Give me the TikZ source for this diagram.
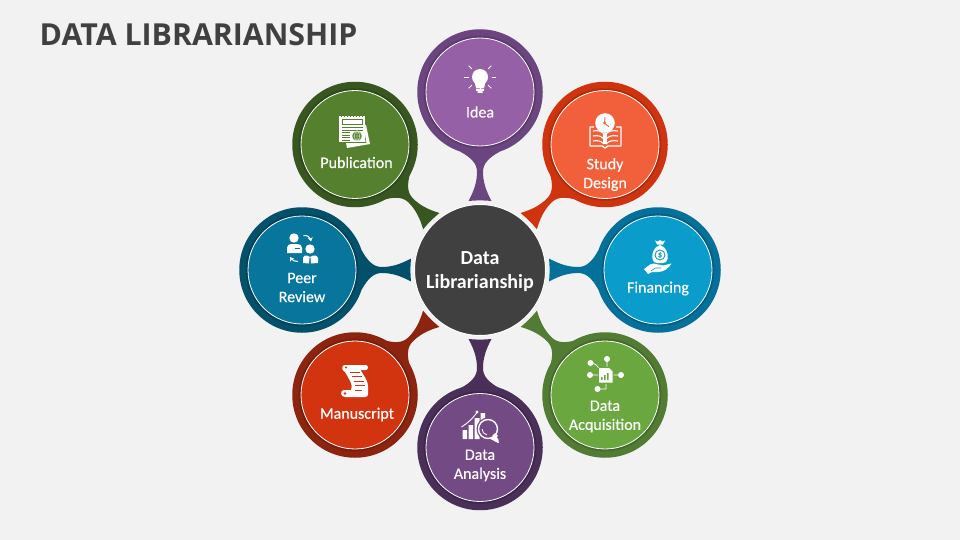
\documentclass[tikz,border=0pt]{standalone}
\usepackage{fontspec}
\setmainfont{Carlito}
\newfontfamily\labfont[FakeBold=0.35]{Carlito}
\newfontfamily\titlefont{Open Sans}
\usetikzlibrary{calc,arrows.meta}
\definecolor{bgc}{HTML}{F2F2F2}
\definecolor{darkc}{HTML}{404040}
\definecolor{ideaO}{HTML}{6B4580}\definecolor{ideaI}{HTML}{9560A5}
\definecolor{studyO}{HTML}{D0340F}\definecolor{studyI}{HTML}{F2603B}
\definecolor{finO}{HTML}{05719A}\definecolor{finI}{HTML}{0A9DCB}
\definecolor{acqO}{HTML}{527C33}\definecolor{acqI}{HTML}{6BA73F}
\definecolor{anaO}{HTML}{4A2F58}\definecolor{anaI}{HTML}{744A85}
\definecolor{manO}{HTML}{8C2410}\definecolor{manI}{HTML}{D2340F}
\definecolor{peerO}{HTML}{03506A}\definecolor{peerI}{HTML}{07759C}
\definecolor{pubO}{HTML}{375620}\definecolor{pubI}{HTML}{55812F}
\tikzset{
  x=1pt,y=-1pt,
  ringnode/.style={circle,inner sep=0pt,minimum size=125.5pt},
  coreshade/.style={circle,inner sep=0pt,minimum size=#1,fill=black,fill opacity=.10},
  facenode/.style={circle,inner sep=0pt,minimum size=108pt,draw=white,line width=.8pt},
  lab/.style={text=white,font=\labfont\fontsize{16}{19}\selectfont,align=center,inner sep=0pt},
  ico/.style={fill=white,draw=none},
}
% bubble: #1 name, #2 position, #3 ring colour, #4 face colour
\newcommand\bubble[4]{%
  \node[ringnode,fill=#3] (#1) at (#2) {};
  \node[coreshade=113pt] at (#1) {};
  \node[coreshade=111pt] at (#1) {};
  \node[facenode,fill=#4] (#1f) at (#1) {};
}
% stem from node #1 to node #2 in colour #3
\newcommand\stem[3]{%
  \fill[#3] let \p1=($(#2.center)-(#1.center)$),\n1={atan2(\y1,\x1)} in
    {[shift={(#1.center)},rotate=\n1]
    (69,-11.5) .. controls (80,-5.5) and (89,-3) .. (98,-3)
    .. controls (106,-3) and (112,-8) .. (118.5,-20)
    -- (122,0) -- (118.5,20)
    .. controls (112,8) and (106,3) .. (98,3)
    .. controls (89,3) and (80,5.5) .. (69,11.5)
    .. controls (69.8,4) and (69.8,-4) .. (69,-11.5) -- cycle};
}
\begin{document}
\begin{tikzpicture}
\useasboundingbox (0,0) rectangle (960,540);
\fill[bgc] (0,0) rectangle (960,540);
\node[anchor=west,inner sep=0pt,text=darkc,font=\titlefont\bfseries\fontsize{30.3}{36}\selectfont] (title) at (39.5,34.5) {DATA LIBRARIANSHIP};

\node[circle,inner sep=0pt,minimum size=131pt,fill=darkc,draw=white,line width=1pt] (core) at (480,270) {};

\coordinate (pA) at (480,92);
\coordinate (pB) at (605,144.5);
\coordinate (pC) at (658,270);
\coordinate (pD) at (605,395);
\coordinate (pE) at (480,447.5);
\coordinate (pF) at (355,395);
\coordinate (pG) at (302,270);
\coordinate (pH) at (355,144.5);

\stem{core}{pA}{ideaO}
\stem{core}{pB}{studyO}
\stem{core}{pC}{finO}
\stem{core}{pD}{acqO}
\stem{core}{pE}{anaO}
\stem{core}{pF}{manO}
\stem{core}{pG}{peerO}
\stem{core}{pH}{pubO}

\bubble{idea}{pA}{ideaO}{ideaI}
\bubble{study}{pB}{studyO}{studyI}
\bubble{fin}{pC}{finO}{finI}
\bubble{acq}{pD}{acqO}{acqI}
\bubble{ana}{pE}{anaO}{anaI}
\bubble{man}{pF}{manO}{manI}
\bubble{peer}{pG}{peerO}{peerI}
\bubble{pub}{pH}{pubO}{pubI}

\node[text=white,font=\bfseries\fontsize{20}{24}\selectfont,align=center,inner sep=0pt] (corelab) at (480,271.5) {Data\\Librarianship};
\node[lab] (l1) at (480,112) {Idea};
\node[lab] (l2) at (605,174.5) {Study\\Design};
\node[lab] (l3) at (658,288.5) {Financing};
\node[lab] (l4) at (605,416.5) {Data\\Acquisition};
\node[lab] (l5) at (480,465.5) {Data\\Analysis};
\node[lab] (l6) at (357,414.5) {Manuscript};
\node[lab] (l7) at (302,287.5) {Peer\\Review};
\node[lab] (l8) at (356.5,162.5) {Publication};

% --- Idea icon
\fill[ico] (480,77) circle (8);
\fill[ico] (474.5,82) -- (485.5,82) -- (484,88) -- (476,88) -- cycle;
\fill[ico] (476,88.6) rectangle (484,91) (477.5,91) rectangle (482.5,92.8);
\foreach \a in {0,45,90,135,180,225,315}
  \draw[white,line width=.9pt] ($(480,77)+(\a:11.5)$) -- ($(480,77)+(\a:16)$);

% --- Study design icon
\fill[ico] (605,123) circle (9.8);
\draw[studyI,line width=.9pt,line cap=round] (605,117.5) -- (604.5,123) -- (608.5,126.5);
\fill[studyI] (604.5,123) circle (1.5);
\draw[white,line width=1.3pt,line join=round]
  (594,127) -- (590,127) -- (590,146) -- (602,146) -- (605,148) -- (608,146) -- (621,146) -- (621,127) -- (616,127);
\fill[ico] (603,133) rectangle (607,144);
\draw[white,line width=1.1pt] (593,131) .. controls (598,130) and (601,131) .. (604,134)
  (593,136) .. controls (598,135) and (601,136) .. (604,139)
  (593,141) .. controls (598,140) and (601,141) .. (604,144)
  (618,131) .. controls (612,130) and (609,131) .. (606,134)
  (618,136) .. controls (612,135) and (609,136) .. (606,139)
  (618,141) .. controls (612,140) and (609,141) .. (606,144);

% --- Financing icon
\fill[ico] (660,245) .. controls (654,247) and (651.5,253) .. (652.5,259) .. controls (653,262) and (655,263) .. (657,263) -- (663,263)
  .. controls (665,263) and (667,262) .. (667.5,259) .. controls (668.5,253) and (666,247) .. (660,245) -- cycle;
\fill[ico] (655,240.5) -- (658,241.5) -- (660,240) -- (662,241.5) -- (665,240.5) -- (663,244.5) -- (657,244.5) -- cycle;
\draw[finI,line width=.9pt] (660,255) circle (5);
\node[inner sep=0pt,text=finI,font=\labfont\fontsize{8}{8}\selectfont] (dollar) at (660,255) {\$};
\fill[ico] (644,269) -- (650,264.5) .. controls (652,263) and (655,263.5) .. (658,264.5)
  -- (663,265.5) -- (671.5,263.5) .. controls (669,268) and (664,272) .. (658,272)
  -- (652,272) -- (648,274) -- cycle;
\draw[finI,line width=.6pt] (651,271) -- (655,268) -- (661,268);

% --- Data acquisition icon
\foreach \p in {(590.5,363),(607,359),(590,375),(621,375),(597.5,389)}
  \fill[ico] \p circle (3);
\fill[ico] (599,368) -- (609,368) -- (612.5,371.5) -- (612.5,382.5) -- (599,382.5) -- cycle;
\fill[acqI] (601,380) rectangle (602.5,377) (604,380) rectangle (605.5,375) (607,380) rectangle (608.5,373);
\draw[white,line width=.8pt] (593,363.5) .. controls (595,364) and (597,365) .. (598.5,367.5)
  (607,361) -- (607,366.5) (592.5,375) -- (598,375) (618.5,375) -- (613.5,375)
  (600,389) -- (606,389) -- (606,384);

% --- Data analysis icon
\fill[ico] (462.5,430) rectangle (467,439) (468.5,425) rectangle (473,439) (474.5,418) rectangle (479.5,439) (480.5,413) rectangle (485,422);
\draw[white,line width=.9pt] (461.5,427) .. controls (468,423) and (473,418) .. (477,412.5);
\fill[ico] (477,412) circle (1.6);
\fill[anaI] (488,429) circle (11.5);
\draw[white,line width=1.4pt] (488,429) circle (9.5);
\draw[white,line width=.8pt] (482,429) arc (180:100:6);
\fill[ico] (494.5,436.5) -- (490.5,439) -- (497,442.5) -- (498.8,443) -- (498.5,440) -- (496,435.5) -- cycle;
\fill[ico] (495,433) -- (498,436) -- (495,438) -- (492,436) -- cycle;

% --- Manuscript icon
\fill[ico] (344,365) -- (366,365) .. controls (368.5,365) and (368.5,370) .. (366,370) -- (360.5,370)
  .. controls (364,376) and (368,381) .. (368,386) -- (368,394)
  .. controls (368,396) and (367,397) .. (365,397) -- (345,397)
  .. controls (340,397) and (340,390) .. (344,390) -- (351,390)
  .. controls (354,386) and (348,377) .. (345,372) .. controls (341,370) and (342,366) .. (344,365) -- cycle;
\draw[manI,line width=.9pt] (350,372) -- (360,372) (352,376.5) -- (362,376.5) (354,381) -- (364,381) (355,385.5) -- (365,385.5) (355,390) -- (362,390);
\fill[manI] (346,367.5) circle (1.1) (345,393.5) circle (1.3);

% --- Peer review icon
\fill[ico] (294,238) circle (4.7) (310,249) circle (4.7);
\fill[ico] (287,253) -- (287,248) .. controls (287,245) and (289,244) .. (291.5,244) -- (297,244)
  .. controls (300,244) and (302,245) .. (302,248) -- (302,253) -- cycle;
\fill[peerI] (295,248.3) rectangle (300,249.3);
\fill[ico] (303,263) -- (303,258) .. controls (303,256) and (305,255) .. (307,255.5) -- (310,257) -- (313,255.5)
  .. controls (316,255) and (318,256) .. (318,258) -- (318,263) -- (311,263.5) -- (310.5,257.5) -- (309.5,257.5) -- (309,263.5) -- cycle;
\draw[white,line width=1.1pt,-{Stealth[length=4pt,width=5pt]}] (303.5,235.5) .. controls (307,235.5) and (310,236.5) .. (311,241.5);
\draw[white,line width=1.1pt,-{Stealth[length=4pt,width=5pt]}] (298,261.5) .. controls (295,261.5) and (292.5,260.5) .. (290,257);

% --- Publication icon
\fill[ico] (362,125) -- (366,125) -- (370,144) -- (347,148) -- (346,143) -- cycle;
\draw[pubI,line width=.6pt] (345.5,142.5) -- (366,142.5) -- (362,120);
\fill[ico] (339,116.5) rectangle (365,142.5);
\foreach \xx in {341,344,347,350,353,356,359,362}
  \fill[pubI] (\xx,116) rectangle (\xx+.8,117.5);
\fill[pubI] (341.5,119) rectangle (363,125);
\fill[ico] (343,120.3) rectangle (361.5,123.7);
\foreach \yy in {127.5,130,132.5,135,137.5,140}
  \draw[pubI,line width=.7pt] (342,\yy) -- (363,\yy);
\fill[ico] (349.5,131) rectangle (364,142);
\foreach \yy in {130,132.5,135,137.5,140}
  \draw[pubI,line width=.7pt] (342,\yy) -- (350,\yy);
\fill[pubI] (357,136) circle (5.2);
\draw[white,line width=.35pt] (357,136) circle (5.2) (351.8,136) -- (362.2,136) (357,130.8) -- (357,141.2) (353,133) -- (361,133) (353,139) -- (361,139);
\draw[white,line width=.35pt] (357,130.8) .. controls (353.5,133) and (353.5,139) .. (357,141.2) .. controls (360.5,139) and (360.5,133) .. (357,130.8);
\end{tikzpicture}
\end{document}
